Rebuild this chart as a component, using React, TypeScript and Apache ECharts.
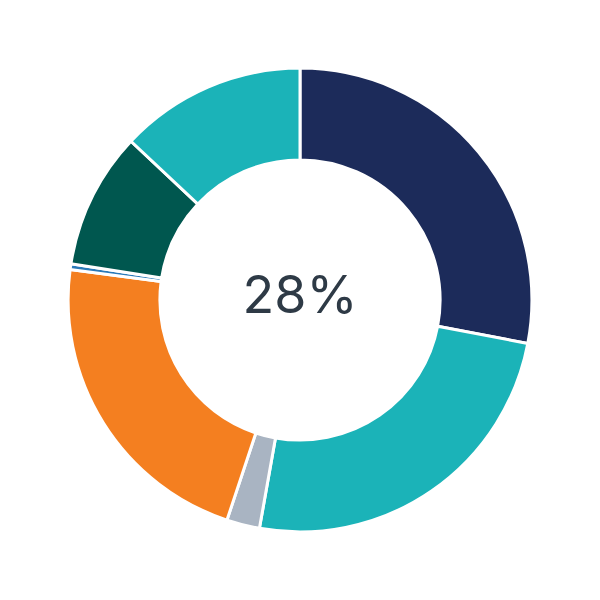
import { useEffect, useRef } from 'react'
import * as echarts from 'echarts'

const names = ['A', 'B', 'C', 'D', 'E', 'F', 'G']
const values = [28, 24.8, 2.3, 22, 0.4, 9.5, 13]
const colors = ['#1c2b5a', '#1bb3b8', '#a9b4c2', '#f47f20', '#2a7ab9', '#00574f', '#1bb3b8']
const centerLabel = '28%'

export default function App() {
  const main = useRef<HTMLDivElement>(null)
  useEffect(() => {
    const chart = echarts.init(main.current, null, { renderer: 'svg' })
    chart.setOption({
      animation: false,
      graphic: [
        {
          type: 'text',
          x: 300,
          y: 294,
          style: {
            text: centerLabel,
            fontSize: 52,
            fontFamily: 'Inter',
            fontWeight: 400,
            fill: '#2e3a46',
            align: 'center',
            verticalAlign: 'middle',
          },
        },
      ],
      series: [
        {
          type: 'pie',
          center: ['50%', '50%'],
          radius: ['46.7%', '77.3%'],
          startAngle: 90,
          clockwise: true,
          label: { show: false },
          labelLine: { show: false },
          itemStyle: { borderColor: '#fff', borderWidth: 3 },
          data: names.map((n, i) => ({
            name: n,
            value: values[i],
            itemStyle: { color: colors[i] },
          })),
        },
      ],
    })
    return () => {
      chart.dispose()
    }
  }, [])
  return (
    <div
      ref={main}
      style={{ position: 'fixed', left: 0, top: 0, width: '600px', height: '600px', background: '#fff' }}
    ></div>
  )
}
